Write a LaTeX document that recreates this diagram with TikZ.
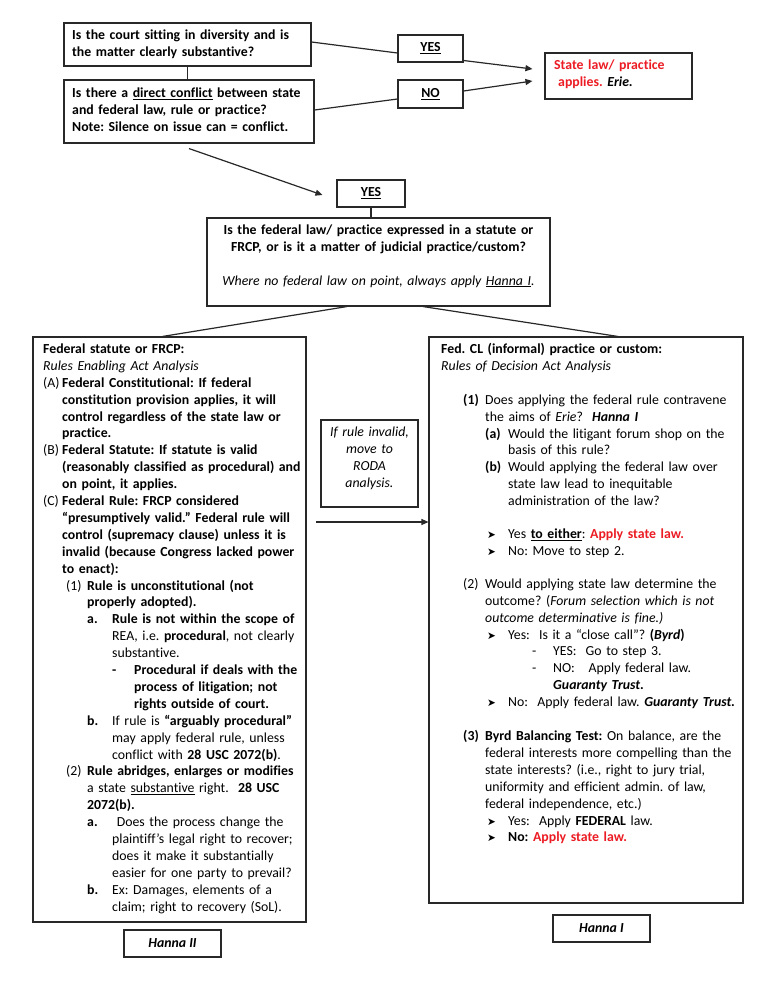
\documentclass[tikz,border=0pt]{standalone}
\usepackage{fontspec}
\setmainfont{Carlito}[Ligatures=NoCommon]
\newfontfamily\djv{DejaVu Sans}
\usetikzlibrary{arrows.meta,calc}
\definecolor{lawred}{RGB}{236,28,36}
\definecolor{edge}{RGB}{40,40,40}
\frenchspacing
\newcommand\fs{\fontsize{13.8}{16.9}\selectfont\frenchspacing}
\newcommand\nl{\newline}
\newcommand\Li[3]{\par\leftskip=#1\relax\hangindent=#2\relax\hangafter=1\noindent\makebox[#2][l]{#3}}
\newcommand\arb{{\djv\fontsize{10.5}{10.5}\selectfont ➤}}
\tikzset{
  bx/.style={draw=edge, line width=1.1pt, inner sep=0pt, rectangle, font=\fs},
  ln/.style={draw=edge, line width=1.2pt},
  arr/.style={ln, -{Triangle[length=7pt,width=6pt]}},
  tx/.style={anchor=north west, inner sep=0pt, align=left, font=\fs},
  ctx/.style={anchor=north, inner sep=0pt, align=center, font=\fs},
}
\begin{document}
\begin{tikzpicture}[x=1pt,y=-1pt]
\fill[white] (0,0) rectangle (768,994);
\useasboundingbox (0,0) rectangle (768,994);

% boxes
\node[bx, minimum width=247pt, minimum height=43pt] (box1) at (187.5,44.5) {};
\node[bx, minimum width=250pt, minimum height=63pt] (box2) at (189,111.5) {};
\node[bx, minimum width=65pt, minimum height=27pt] (yes1) at (430.5,48.5) {\textbf{\underline{YES}}};
\node[bx, minimum width=65pt, minimum height=28pt] (no) at (430.5,94) {\textbf{\underline{NO}}};
\node[bx, minimum width=147pt, minimum height=46pt] (state) at (618.5,76) {};
\node[bx, minimum width=68pt, minimum height=27pt] (yes2) at (371,193.5) {\textbf{\underline{YES}}};
\node[bx, minimum width=343pt, minimum height=88pt] (main) at (378.5,262) {};
\node[bx, minimum width=273pt, minimum height=585pt] (left) at (169.5,629.5) {};
\node[bx, minimum width=314pt, minimum height=566pt] (right) at (586,620) {};
\node[bx, minimum width=97pt, minimum height=87pt] (roda) at (369.5,463.5) {};
\node[bx, minimum width=97pt, minimum height=27pt] (h2) at (172.5,943.5) {\textbf{\textit{Hanna II}}};
\node[bx, minimum width=97pt, minimum height=27pt] (h1) at (601.5,928.5) {\textbf{\textit{Hanna I}}};

% texts
\node[tx, text width=235pt] (b1txt) at (72,27.4) {\strut\textbf{Is the court sitting in diversity and is\nl the matter clearly substantive?}};
\node[tx, text width=240pt] (b2txt) at (72,85.4) {\strut\textbf{Is there a \underline{direct conflict} between state\nl and federal law, rule or practice?\nl Note: Silence on issue can = conflict.}};
\node[tx, text width=140pt, text=lawred] (sttxt) at (554,57.4) {\strut\textbf{State law/ practice\nl\hspace*{4pt}applies. {\color{black}\textit{Erie.}}}};
\node[ctx, text width=340pt] (maintxt) at (378.5,222.4) {\strut\textbf{Is the federal law/ practice expressed in a statute or}\\\textbf{FRCP, or is it a matter of judicial practice/custom?}\\[16.9pt]\textit{Where no federal law on point, always apply \underline{Hanna I}.}};
\node[ctx, text width=95pt, font=\fs\itshape] (rodatxt) at (369.5,424.4) {\strut If rule invalid,\\move to\\RODA\\analysis.};

\node[tx, text width=275pt] (lefttxt) at (43,341.4) {\strut\textbf{Federal statute or FRCP:}\par
\noindent\textit{Rules Enabling Act Analysis}
\Li{0pt}{19pt}{(A)}\textbf{Federal Constitutional: If federal\nl constitution provision applies, it will\nl control regardless of the state law or\nl practice.}
\Li{0pt}{19pt}{(B)}\textbf{Federal Statute: If statute is valid\nl (reasonably classified as procedural) and\nl on point, it applies.}
\Li{0pt}{19pt}{(C)}\textbf{Federal Rule: FRCP considered\nl “presumptively valid.” Federal rule will\nl control (supremacy clause) unless it is\nl invalid (because Congress lacked power\nl to enact):}
\Li{23pt}{21pt}{(1)}\textbf{Rule is unconstitutional (not\nl properly adopted).}
\Li{44pt}{25pt}{\textbf{a.}}\textbf{Rule is not within the scope of}\nl REA, i.e. \textbf{procedural}, not clearly\nl substantive.
\Li{69pt}{22pt}{\textbf{-}}\textbf{Procedural if deals with the\nl process of litigation; not\nl rights outside of court.}
\Li{44pt}{25pt}{\textbf{b.}}If rule is \textbf{“arguably procedural”}\nl may apply federal rule, unless\nl conflict with \textbf{28 USC 2072(b)}.
\Li{23pt}{21pt}{(2)}\textbf{Rule abridges, enlarges or modifies}\nl a state \underline{substantive} right.\ \ \textbf{28 USC\nl 2072(b).}
\Li{44pt}{25pt}{\textbf{a.}}\ Does the process change the\nl plaintiff’s legal right to recover;\nl does it make it substantially\nl easier for one party to prevail?
\Li{44pt}{25pt}{\textbf{b.}}Ex: Damages, elements of a\nl claim; right to recovery (SoL).\par};

\node[tx, text width=300pt] (righttxt) at (441,341.4) {\strut\textbf{Fed. CL (informal) practice or custom:}\par
\noindent\textit{Rules of Decision Act Analysis}\par
\vspace{17pt}
\Li{22pt}{22pt}{\textbf{(1)}}Does applying the federal rule contravene\nl the aims of \textit{Erie}?\ \ \textbf{\textit{Hanna I}}
\Li{44pt}{23pt}{\textbf{(a)}}Would the litigant forum shop on the\nl basis of this rule?
\Li{44pt}{23pt}{\textbf{(b)}}Would applying the federal law over\nl state law lead to inequitable\nl administration of the law?\par
\vspace{16pt}
\Li{46pt}{21pt}{\arb}Yes \underline{\textbf{to either}}: \textcolor{lawred}{\textbf{Apply state law.}}
\Li{46pt}{21pt}{\arb}No: Move to step 2.\par
\vspace{16pt}
\Li{22pt}{22pt}{(2)}Would applying state law determine the\nl outcome? (\textit{Forum selection which is not\nl outcome determinative is fine.)}
\Li{46pt}{21pt}{\arb}Yes:\ \ Is it a “close call”? \textbf{(\textit{Byrd})}
\Li{91pt}{21pt}{-}YES:\ \ Go to step 3.
\Li{91pt}{21pt}{-}NO:\ \ \ Apply federal law.\nl \textbf{\textit{Guaranty Trust.}}
\Li{46pt}{21pt}{\arb}No:\ \ Apply federal law. \textbf{\textit{Guaranty Trust.}}\par
\vspace{17pt}
\Li{22pt}{22pt}{\textbf{(3)}}\textbf{Byrd Balancing Test:} On balance, are the\nl federal interests more compelling than the\nl state interests? (i.e., right to jury trial,\nl uniformity and efficient admin. of law,\nl federal independence, etc.)
\Li{46pt}{21pt}{\arb}Yes:\ \ Apply \textbf{FEDERAL} law.
\Li{46pt}{21pt}{\arb}\textbf{No:} \textcolor{lawred}{\textbf{Apply state law.}}\par};

% connectors
\coordinate (t1) at ([xshift=-12pt,yshift=7pt]state.west);
\coordinate (t2) at ([xshift=-12pt,yshift=-5pt]state.west);
\draw[ln] (box1.south) -- (box1.south |- box2.north);
\draw[ln] ([yshift=2.5pt]box1.east) -- ([yshift=-4.5pt]yes1.west);
\draw[arr] ([yshift=-12pt]yes1.east) -- (t1);
\draw[ln] ([yshift=1.5pt]box2.east) -- ([yshift=-5pt]no.west);
\draw[arr] ([yshift=3pt]no.east) -- (t2);
\draw[arr] ([yshift=-5pt]box2.south) -- ([xshift=-14pt,yshift=-1.5pt]yes2.west);
\draw[ln] (yes2.south) -- (yes2.south |- main.north);
\draw[ln] ([xshift=-31.5pt]main.south) -- ([xshift=-7pt]left.north);
\draw[ln] ([xshift=44.5pt]main.south) -- ([xshift=32pt]right.north);
\coordinate (a0) at (316,522);
\draw[arr] (a0) -- (a0 -| right.west);
\end{tikzpicture}
\end{document}
